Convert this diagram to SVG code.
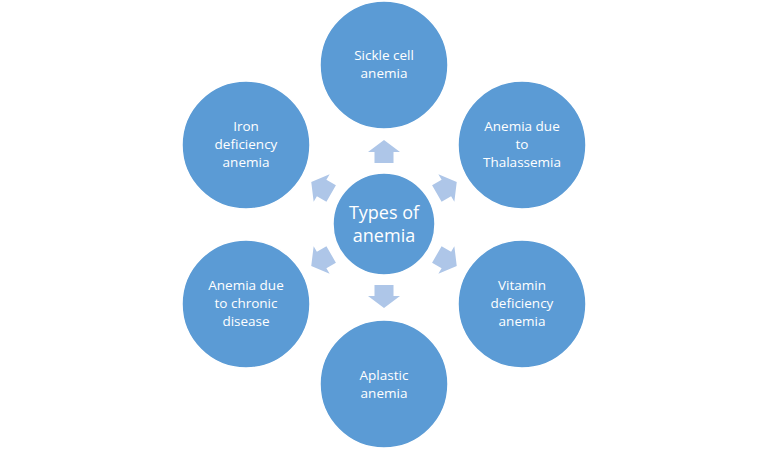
<svg xmlns="http://www.w3.org/2000/svg" width="768" height="451" viewBox="0 0 768 451">
<style>
.c{fill:#5b9bd5;stroke:#fff;stroke-width:1.5}
.t{font-family:"Open Sans","Liberation Sans",sans-serif;font-size:13.5px;fill:#fff;text-anchor:middle}
.tc{font-family:"Open Sans","Liberation Sans",sans-serif;font-size:18px;fill:#fff;text-anchor:middle}
.a{fill:#aec6e8}
</style>
<defs><polygon id="arr" points="-9.5,0 9.5,0 9.5,-11 16,-11 0,-23 -16,-11 -9.5,-11"/></defs>
<rect width="768" height="451" fill="#fff"/>
<g id="connectors">
<use href="#arr" class="a" transform="translate(384,224) rotate(0) translate(0,-61)"/>
<use href="#arr" class="a" transform="translate(384,224) rotate(60) translate(0,-61)"/>
<use href="#arr" class="a" transform="translate(384,224) rotate(120) translate(0,-61)"/>
<use href="#arr" class="a" transform="translate(384,224) rotate(180) translate(0,-61)"/>
<use href="#arr" class="a" transform="translate(384,224) rotate(240) translate(0,-61)"/>
<use href="#arr" class="a" transform="translate(384,224) rotate(300) translate(0,-61)"/>
</g>
<g id="center"><circle class="c" cx="384" cy="224" r="51"/><text class="tc" x="384" y="219">Types of</text><text class="tc" x="384" y="242">anemia</text></g>
<g id="sickle"><circle class="c" cx="384" cy="65" r="64"/><text class="t" x="384" y="60">Sickle cell</text><text class="t" x="384" y="78">anemia</text></g>
<g id="thal"><circle class="c" cx="522" cy="145" r="64"/><text class="t" x="522" y="131">Anemia due</text><text class="t" x="522" y="149">to</text><text class="t" x="522" y="167">Thalassemia</text></g>
<g id="vit"><circle class="c" cx="522" cy="304" r="64"/><text class="t" x="522" y="290">Vitamin</text><text class="t" x="522" y="308">deficiency</text><text class="t" x="522" y="326">anemia</text></g>
<g id="aplastic"><circle class="c" cx="384" cy="384" r="64"/><text class="t" x="384" y="380">Aplastic</text><text class="t" x="384" y="398">anemia</text></g>
<g id="chronic"><circle class="c" cx="246" cy="304" r="64"/><text class="t" x="246" y="290">Anemia due</text><text class="t" x="246" y="308">to chronic</text><text class="t" x="246" y="326">disease</text></g>
<g id="iron"><circle class="c" cx="246" cy="145" r="64"/><text class="t" x="246" y="131">Iron</text><text class="t" x="246" y="149">deficiency</text><text class="t" x="246" y="167">anemia</text></g>
</svg>
